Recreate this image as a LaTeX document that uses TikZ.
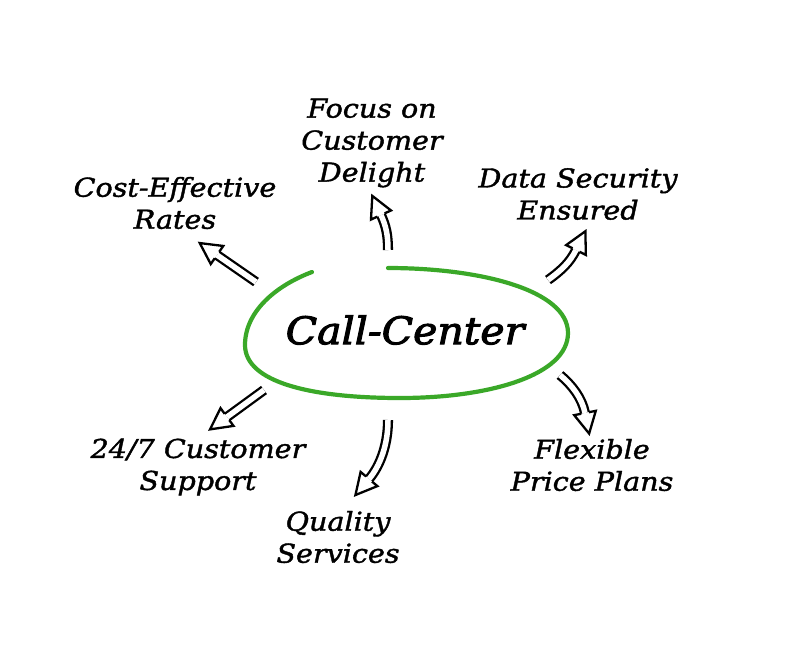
\documentclass[tikz,border=0pt]{standalone}
\usepackage{fontspec}
\setmainfont{DejaVu Serif}
\newfontfamily\handfont[FakeStretch=1.1, FakeBold=1.5]{DejaVu Serif}
\newfontfamily\titlefont[FakeStretch=1.08, FakeBold=2.6]{DejaVu Serif}
\usetikzlibrary{decorations.markings}
\definecolor{brushgreen}{RGB}{58,168,40}
\tikzset{
  lbl/.style={align=center, font=\handfont\itshape\fontsize{26}{32}\selectfont, inner sep=0pt},
  harrow/.style={double, double distance=5.5pt, line width=2.3pt,
    postaction={decorate, decoration={markings, mark=at position 1 with {
      \fill[white] (0,-11pt) -- (21pt,0) -- (0,11pt) -- cycle;
      \draw[line width=2.3pt, line join=miter] (0,3.9pt) -- (0,11pt) -- (21pt,0) -- (0,-11pt) -- (0,-3.9pt);}}}}
}
\begin{document}
\begin{tikzpicture}[x=1pt, y=-1pt]
\useasboundingbox (0,0) rectangle (800,665);
% ellipse brush stroke
\coordinate (e0) at (388,268);
\coordinate (eR) at (568,333);
\coordinate (eB) at (400,398);
\coordinate (eL) at (245,345);
\coordinate (e1) at (312,272);
\draw[brushgreen, line width=4.2pt, line cap=round]
  (e0) .. controls (480,268) and (568,290) .. (eR)
       .. controls (568,375) and (490,398) .. (eB)
       .. controls (310,398) and (245,382) .. (eL)
       .. controls (245,312) and (275,286) .. (e1);
\node (center) at (405,330) {\titlefont\itshape\fontsize{38}{44}\selectfont Call-Center};
% labels
\node[lbl] (focus) at (372,143) {Focus on\\Customer\\Delight};
\node[lbl] (cost) at (175,203) {Cost-Effective\\Rates};
\node[lbl] (data) at (578,194) {Data Security\\Ensured};
\node[lbl] (support) at (198,467) {24/7 Customer\\Support};
\node[lbl] (quality) at (338,537) {Quality\\Services};
\node[lbl] (price) at (592,465) {Flexible\\Price Plans};
% arrow end points
\coordinate (c1s) at (256,282); \coordinate (c1e) at (217,255);
\coordinate (c2s) at (388,250); \coordinate (c2e) at (381,215);
\coordinate (c3s) at (548,280); \coordinate (c3e) at (576,250);
\coordinate (c4s) at (264,390); \coordinate (c4e) at (227,417);
\coordinate (c5s) at (388,420); \coordinate (c5e) at (369,479);
\coordinate (c6s) at (560,375); \coordinate (c6e) at (585,413);
\draw[harrow] (c1s) -- (c1e);
\draw[harrow] (c2s) .. controls (388,235) and (386,226) .. (c2e);
\draw[harrow] (c3s) .. controls (562,270) and (570,262) .. (c3e);
\draw[harrow] (c4s) -- (c4e);
\draw[harrow] (c5s) .. controls (388,445) and (380,466) .. (c5e);
\draw[harrow] (c6s) .. controls (572,385) and (582,398) .. (c6e);
\end{tikzpicture}
\end{document}
